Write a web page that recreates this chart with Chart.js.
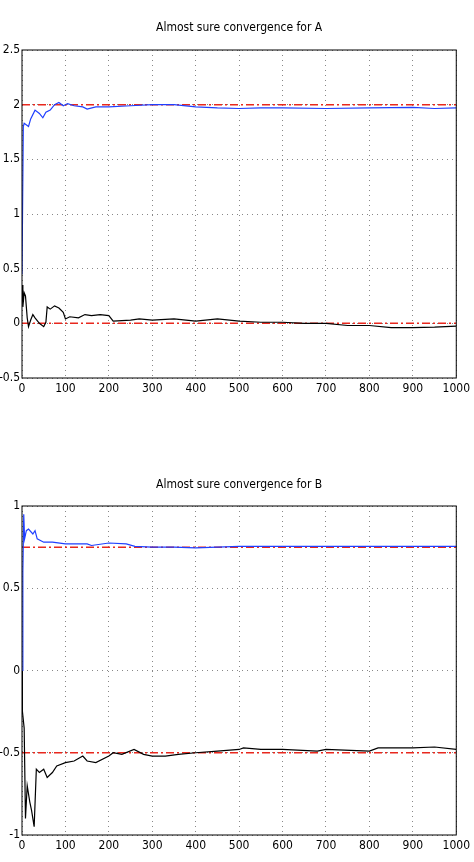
<!DOCTYPE html>
<html><head>
<script src="https://cdn.jsdelivr.net/npm/chart.js@4"></script>
<style>body{margin:0;background:#fff}canvas{display:block}</style>
</head><body>
<canvas id="chartA" width="474" height="431"></canvas>
<canvas id="chartB" width="474" height="431"></canvas>
<script>
const FONT = "'Liberation Sans Narrow', 'DejaVu Sans Condensed', sans-serif";

const aBlueX = [0,3,5,15,20,30,40,48,55,65,75,85,95,105,120,140,150,170,200,250,300,350,400,450,500,550,600,700,800,900,950,1000];
const aBlueY = [0.45,1.8,1.83,1.8,1.87,1.95,1.92,1.88,1.93,1.95,2.0,2.02,1.99,2.01,1.99,1.98,1.96,1.98,1.98,1.99,2.0,2.0,1.98,1.97,1.965,1.97,1.97,1.965,1.97,1.975,1.965,1.97];
const aBlackX = [0,2,5,8,12,15,20,25,30,40,50,55,58,65,75,85,95,100,110,130,145,160,180,200,210,250,270,300,350,400,450,500,550,600,650,700,750,800,850,900,950,1000];
const aBlackY = [0.35,0.15,0.28,0.25,0.05,-0.03,0.03,0.08,0.05,0.0,-0.03,0.01,0.15,0.13,0.16,0.14,0.1,0.04,0.06,0.05,0.08,0.07,0.08,0.07,0.02,0.03,0.04,0.03,0.04,0.02,0.04,0.02,0.01,0.01,0.0,0.0,-0.02,-0.02,-0.04,-0.04,-0.035,-0.025];
const aRefs = [2, 0];

const bBlueX = [0,2,4,6,10,15,25,30,35,50,70,100,150,160,200,240,260,300,350,400,450,500,600,700,800,900,1000];
const bBlueY = [0,0.6,0.95,0.8,0.85,0.86,0.83,0.85,0.8,0.78,0.78,0.77,0.77,0.76,0.775,0.77,0.755,0.75,0.75,0.745,0.75,0.755,0.755,0.755,0.755,0.755,0.755];
const bBlackX = [0,1,5,8,12,18,22,28,33,40,50,58,70,80,100,120,140,150,170,200,210,230,258,280,300,330,360,400,450,500,510,550,600,680,700,800,820,900,950,1000];
const bBlackY = [0,-0.25,-0.35,-0.9,-0.7,-0.8,-0.85,-0.95,-0.6,-0.62,-0.6,-0.65,-0.62,-0.58,-0.56,-0.55,-0.52,-0.55,-0.56,-0.52,-0.5,-0.51,-0.48,-0.51,-0.52,-0.52,-0.51,-0.5,-0.49,-0.48,-0.47,-0.48,-0.48,-0.49,-0.48,-0.49,-0.47,-0.47,-0.465,-0.48];
const bRefs = [0.75, -0.5];

function pts(xs, ys) { return xs.map((x, i) => ({x: x, y: ys[i]})); }

const framePlugin = {
  id: "frame",
  afterDraw(chart, args, opts) {
    const a = chart.chartArea, c = chart.ctx;
    c.save();
    c.strokeStyle = "#000"; c.lineWidth = 1;
    c.strokeRect(a.left, a.top, a.right - a.left, a.bottom - a.top);
    c.fillStyle = "#000"; c.font = "12px " + FONT; c.textAlign = "center";
    c.fillText(opts.text, (a.left + a.right) / 2, opts.y);
    c.restore();
  }
};

function makeChart(id, blue, black, refs, ymin, ymax, step, top, xh, titleY) {
  const ds = [
    {data: blue, borderColor: "#1f3fff", borderWidth: 1.2},
    {data: black, borderColor: "#000", borderWidth: 1.2}
  ];
  refs.forEach(r => ds.push({data: [{x: 0, y: r}, {x: 1000, y: r}], borderColor: "#e8281e", borderWidth: 1.5, borderDash: [8, 3, 2, 3]}));
  ds.forEach(d => { d.pointRadius = 0; d.tension = 0; });
  new Chart(document.getElementById(id), {
    type: "line",
    data: {datasets: ds},
    plugins: [framePlugin],
    options: {
      responsive: false, animation: false,
      layout: {padding: {top: top, right: 14, left: 0, bottom: 0}},
      plugins: {legend: {display: false}, tooltip: {enabled: false}, frame: {text: titleY.text, y: titleY.y}},
      scales: {
        x: {type: "linear", min: 0, max: 1000,
          ticks: {stepSize: 100, color: "#000", font: {family: FONT, size: 12}, maxRotation: 0, padding: 4,
            callback: v => String(v)},
          grid: {color: "#888", tickLength: 0}, border: {display: false, dash: [1, 4]},
          afterFit: s => { s.height = xh; }},
        y: {min: ymin, max: ymax,
          ticks: {stepSize: step, color: "#000", font: {family: FONT, size: 12}, padding: 2,
            callback: v => String(v)},
          grid: {color: "#888", tickLength: 0}, border: {display: false, dash: [1, 4]},
          afterFit: s => { s.width = 22; }}
      }
    }
  });
}

makeChart("chartA", pts(aBlueX, aBlueY), pts(aBlackX, aBlackY), aRefs, -0.5, 2.5, 0.5, 50, 53, {text: "Almost sure convergence for A", y: 31});
makeChart("chartB", pts(bBlueX, bBlueY), pts(bBlackX, bBlackY), bRefs, -1, 1, 0.5, 75, 27, {text: "Almost sure convergence for B", y: 57});
</script>
</body></html>
